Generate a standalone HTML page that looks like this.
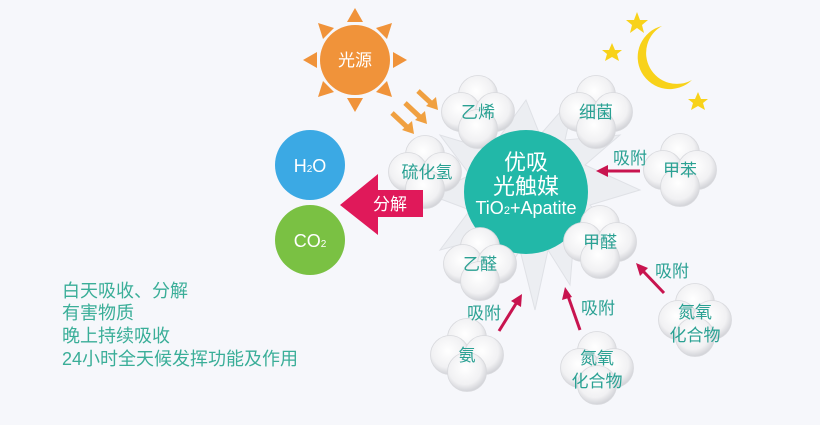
<!DOCTYPE html>
<html><head><meta charset="utf-8"><style>
html,body{margin:0;padding:0;background:#f6f7fb;}
svg{display:block;font-family:"Liberation Sans","Noto Sans CJK SC",sans-serif;}
</style></head><body>
<svg width="820" height="425" viewBox="0 0 820 425" xmlns="http://www.w3.org/2000/svg">
<defs>
<radialGradient id="g" cx="0.45" cy="0.4" r="0.6">
<stop offset="0" stop-color="#ffffff"/><stop offset="0.7" stop-color="#f1f1f3"/><stop offset="1" stop-color="#d2d3d8"/>
</radialGradient>
<g id="c">
<circle cx="0" cy="-17" r="19.5" fill="url(#g)" stroke="#d8d9dd" stroke-width="0.8"/>
<circle cx="-17" cy="0" r="19.5" fill="url(#g)" stroke="#d8d9dd" stroke-width="0.8"/>
<circle cx="17" cy="0" r="19.5" fill="url(#g)" stroke="#d8d9dd" stroke-width="0.8"/>
<circle cx="0" cy="17" r="19.5" fill="url(#g)" stroke="#d8d9dd" stroke-width="0.8"/>
</g>
</defs>
<rect width="820" height="425" fill="#f6f7fb"/>
<polygon points="526,100 540,135 575,95 565,140 620,135 585,165 640,190 590,205 625,245 575,225 570,285 548,250 535,310 520,250 495,290 495,235 440,250 470,210 430,195 470,175 440,135 490,150" fill="#eceef2" stroke="#dfe1e6"/>
<g fill="#f0933a">
<polygon points="355,8 347,22 363,22"/><polygon points="355,112 347,98 363,98"/>
<polygon points="303,60 317,52 317,68"/><polygon points="407,60 393,52 393,68"/>
<polygon points="318,23 334,28 323,39"/><polygon points="392,23 376,28 387,39"/>
<polygon points="318,97 334,92 323,81"/><polygon points="392,97 376,92 387,81"/>
<circle cx="355" cy="60" r="35"/>
</g>
<text x="355" y="66" font-size="17" fill="#fff" text-anchor="middle">光源</text>
<g stroke="#f0a040" stroke-width="5" fill="none">
<line x1="392" y1="113" x2="408" y2="128"/><line x1="405" y1="103" x2="421" y2="118"/><line x1="418" y1="91" x2="432" y2="104"/>
</g>
<g fill="#f0a040">
<polygon points="414,134 402,130 412,121"/><polygon points="427,124 415,120 425,111"/><polygon points="438,110 426,106 436,97"/>
</g>
<path d="M662,26 A32,32 0 1 0 692,80 A25,25 0 1 1 662,26 Z" fill="#f8d21a"/>
<g fill="#f8d21a">
<polygon points="637,12 640,20 648,20 642,25 644,33 637,28 630,33 632,25 626,20 634,20"/>
<polygon points="612,43 615,50 622,50 617,54 619,61 612,57 605,61 607,54 602,50 609,50"/>
<polygon points="698,92 701,99 708,99 703,103 705,110 698,106 691,110 693,103 688,99 695,99"/>
</g>
<use href="#c" x="478" y="112"/><use href="#c" x="596" y="112"/><use href="#c" x="425" y="172"/>
<use href="#c" x="680" y="170"/>
<circle cx="526" cy="192" r="62" fill="#22b8a8"/>
<use href="#c" x="480" y="264"/><use href="#c" x="600" y="242"/>
<use href="#c" x="467" y="355"/><use href="#c" x="597" y="368"/><use href="#c" x="695" y="320"/>
<g font-size="17" fill="#2aa193" text-anchor="middle">
<text x="478" y="118">乙烯</text><text x="596" y="118">细菌</text><text x="427" y="178">硫化氢</text>
<text x="680" y="176">甲苯</text><text x="480" y="270">乙醛</text><text x="600" y="248">甲醛</text>
<text x="467" y="361">氨</text><text x="597" y="364">氮氧</text><text x="597" y="387">化合物</text>
<text x="695" y="318">氮氧</text><text x="695" y="341">化合物</text>
</g>
<g fill="#fff" text-anchor="middle">
<text x="526" y="170" font-size="22">优吸</text>
<text x="526" y="194" font-size="22">光触媒</text>
<text x="526" y="214" font-size="18">TiO<tspan font-size="11">2</tspan>+Apatite</text>
</g>
<circle cx="310" cy="165" r="35" fill="#3ba9e4"/>
<circle cx="310" cy="240" r="35" fill="#7ac143"/>
<text x="310" y="172" font-size="18" fill="#fff" text-anchor="middle">H<tspan font-size="10">2</tspan>O</text>
<text x="310" y="247" font-size="18" fill="#fff" text-anchor="middle">CO<tspan font-size="10">2</tspan></text>
<polygon points="340,205 378,174 378,190 423,190 423,217 378,217 378,235" fill="#e0195a"/>
<text x="390" y="210" font-size="17" fill="#fff" text-anchor="middle">分解</text>
<g stroke="#c8144f" stroke-width="3" fill="#c8144f">
<line x1="640" y1="171" x2="605" y2="171"/><polygon points="596,171 608,165 608,177" stroke="none"/>
<line x1="664" y1="293" x2="643" y2="271"/><polygon points="636,263 648,268 640,276" stroke="none"/>
<line x1="580" y1="330" x2="568" y2="296"/><polygon points="565,287 572,297 562,300" stroke="none"/>
<line x1="499" y1="331" x2="517" y2="302"/><polygon points="522,294 521,307 511,301" stroke="none"/>
</g>
<g font-size="17" fill="#2aa193" text-anchor="middle">
<text x="630" y="164">吸附</text><text x="672" y="277">吸附</text>
<text x="598" y="314">吸附</text><text x="484" y="319">吸附</text>
</g>
<g font-size="18" fill="#3aae98">
<text x="62" y="297">白天吸收、分解</text>
<text x="62" y="319">有害物质</text>
<text x="62" y="342">晚上持续吸收</text>
<text x="62" y="365">24小时全天候发挥功能及作用</text>
</g>
</svg>
</body></html>
